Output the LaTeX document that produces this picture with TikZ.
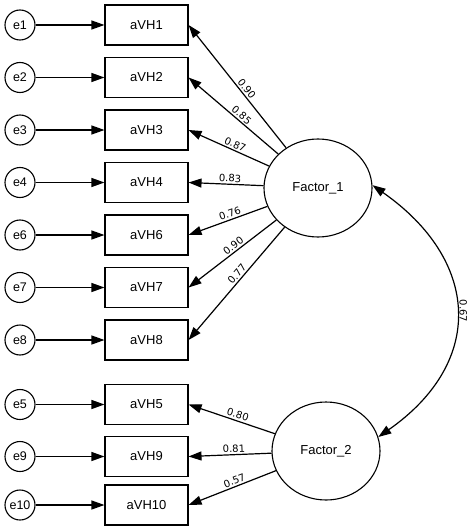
\documentclass[tikz,border=0pt]{standalone}
\usepackage{fontspec}
\setmainfont{Liberation Sans}
\newfontfamily\coeffont{DejaVu Sans}
\usetikzlibrary{arrows.meta,shapes.geometric}

\tikzset{
  item/.style={draw,line width=1.1pt,minimum width=83pt,minimum height=40pt,inner sep=0pt,font=\fontsize{13}{15}\selectfont},
  err/.style={draw,circle,line width=1.1pt,minimum size=30pt,inner sep=0pt,font=\fontsize{12.5}{15}\selectfont},
  factor/.style={draw,ellipse,line width=1.1pt,minimum width=108pt,minimum height=98pt,inner sep=0pt,font=\fontsize{13}{15}\selectfont},
  tip/.style={Triangle[length=13pt,width=9pt]},
  link/.style={line width=1.2pt,-{Triangle[length=13pt,width=9pt]}},
  coef/.style={font=\coeffont\fontsize{10}{12}\selectfont,sloped,above,inner sep=1.5pt,pos=0.45}
}

\begin{document}
\begin{tikzpicture}[x=1pt,y=1pt]
\useasboundingbox (0,0) rectangle (474,-532);

% indicators with their error terms
\foreach \n/\y in {1/25,2/77.5,3/130,4/182.5,6/235,7/287.5,8/340,5/404.5,9/456.5,10/505}{
  \node[err] (e\n) at (20,-\y) {e\n};
  \node[item] (v\n) at (146.5,-\y) {aVH\n};
  \draw[link] (e\n) -- (v\n);
}

% latent factors
\node[factor] (f1) at (318,-188) {Factor\_1};
\node[factor] (f2) at (326,-451) {Factor\_2};

% loadings
\foreach \n/\c in {1/0.90,2/0.85,3/0.87,4/0.83,6/0.76,7/0.90,8/0.77}
  \draw[link] (f1) -- node[coef] (c\n) {\c} (v\n.east);
\foreach \n/\c in {5/0.80,9/0.81,10/0.57}
  \draw[link] (f2) -- node[coef] (c\n) {\c} (v\n.east);

% factor covariance
\draw[line width=1.2pt,{Triangle[length=13pt,width=9pt]}-{Triangle[length=13pt,width=9pt]}]
  (f1.3) to[out=-35,in=35,looseness=1.33]
  node[midway,rotate=-90,anchor=south,inner sep=3pt,font=\coeffont\fontsize{10}{12}\selectfont] (r12) {0.67}
  (f2.15);
\end{tikzpicture}
\end{document}
